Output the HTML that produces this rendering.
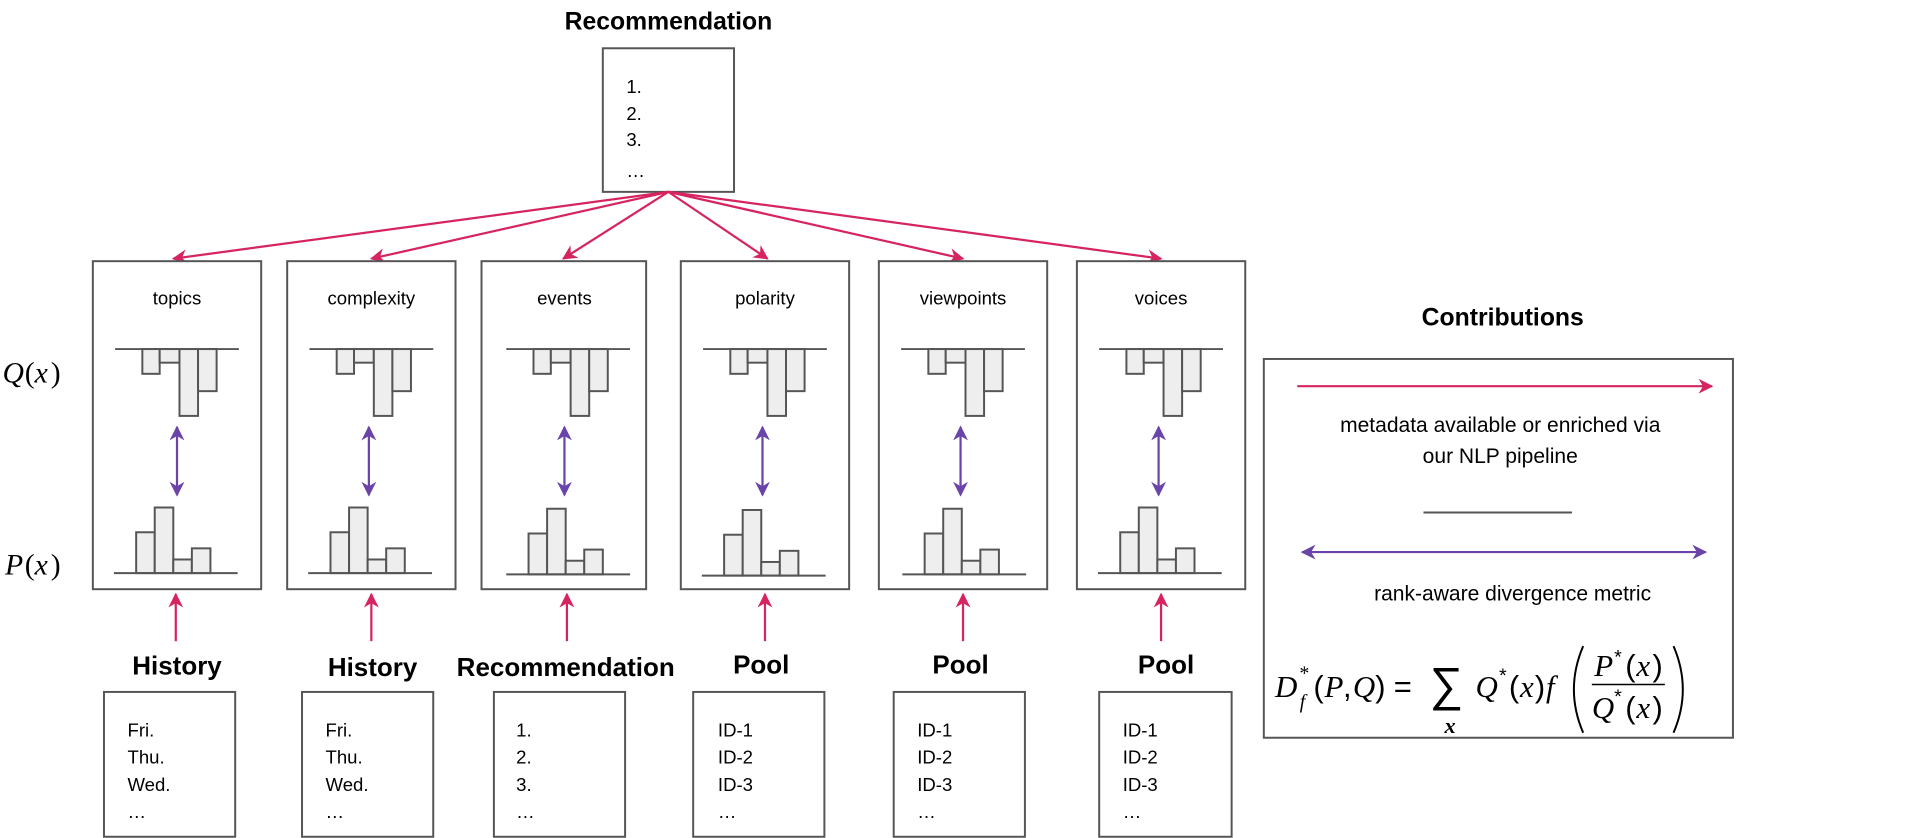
<!DOCTYPE html>
<html><head><meta charset="utf-8"><style>
html,body{margin:0;padding:0;background:#fff;width:1931px;height:838px;overflow:hidden}
svg{display:block}
text{font-family:"Liberation Sans",sans-serif;fill:#000}
.s{font-family:"Liberation Serif",serif;font-style:italic}
.r{font-family:"Liberation Serif",serif}
</style></head><body>
<svg width="1931" height="838" viewBox="0 0 1560 677" preserveAspectRatio="none" xmlns="http://www.w3.org/2000/svg">
<defs>
<marker id="pkb" viewBox="0 0 10 10" refX="9" refY="5" markerWidth="12" markerHeight="12" orient="auto-start-reverse" markerUnits="userSpaceOnUse"><path d="M0,0 L10,5 L0,10 L3,5 z" fill="#d6245f"/></marker>
<marker id="pub" viewBox="0 0 10 10" refX="9" refY="5" markerWidth="12" markerHeight="12" orient="auto-start-reverse" markerUnits="userSpaceOnUse"><path d="M0,0 L10,5 L0,10 L3,5 z" fill="#6a44a8"/></marker>
</defs>

<text x="540" y="24" font-size="20" font-weight="bold" text-anchor="middle">Recommendation</text>
<rect x="487" y="39" width="106" height="116" fill="#fff" stroke="#555" stroke-width="1.6"/>
<g font-size="15"><text x="506" y="75">1.</text><text x="506" y="97">2.</text><text x="506" y="118">3.</text><text x="506" y="143">…</text></g>

<g stroke="#d6245f" stroke-width="1.8" fill="none">
<line x1="540" y1="155" x2="140" y2="209" marker-end="url(#pkb)"/>
<line x1="540" y1="155" x2="300" y2="209" marker-end="url(#pkb)"/>
<line x1="540" y1="155" x2="455" y2="209" marker-end="url(#pkb)"/>
<line x1="540" y1="155" x2="620" y2="209" marker-end="url(#pkb)"/>
<line x1="540" y1="155" x2="778" y2="209" marker-end="url(#pkb)"/>
<line x1="540" y1="155" x2="938" y2="209" marker-end="url(#pkb)"/>
</g>

<text class="s" x="2" y="309" font-size="24">Q</text><text class="r" x="20" y="309" font-size="24">(</text><text class="s" x="28" y="309" font-size="24">x</text><text class="r" x="41" y="309" font-size="24">)</text>
<text class="s" x="4" y="464" font-size="24">P</text><text class="r" x="20" y="464" font-size="24">(</text><text class="s" x="28" y="464" font-size="24">x</text><text class="r" x="41" y="464" font-size="24">)</text>

<g transform="translate(75,0)">
<rect x="0" y="211" width="136" height="265" fill="#fff" stroke="#555" stroke-width="1.6"/>
<text x="68" y="246" text-anchor="middle" font-size="15">topics</text>
<g fill="#eee" stroke="#555" stroke-width="1.6">
<rect x="40" y="282" width="14" height="20"/><rect x="54" y="282" width="16" height="11"/><rect x="70" y="282" width="15" height="54"/><rect x="85" y="282" width="15" height="34"/>
<rect x="35" y="430" width="15" height="33"/><rect x="50" y="410" width="15" height="53"/><rect x="65" y="452" width="15" height="11"/><rect x="80" y="443" width="15" height="20"/>
</g>
<line x1="18" y1="282" x2="118" y2="282" stroke="#555" stroke-width="1.6"/>
<line x1="17" y1="463" x2="117" y2="463" stroke="#555" stroke-width="1.6"/>
<line x1="68" y1="345" x2="68" y2="400" stroke="#6a44a8" stroke-width="1.8" marker-start="url(#pub)" marker-end="url(#pub)"/>
</g>

<g transform="translate(232,0)">
<rect x="0" y="211" width="136" height="265" fill="#fff" stroke="#555" stroke-width="1.6"/>
<text x="68" y="246" text-anchor="middle" font-size="15">complexity</text>
<g fill="#eee" stroke="#555" stroke-width="1.6">
<rect x="40" y="282" width="14" height="20"/><rect x="54" y="282" width="16" height="11"/><rect x="70" y="282" width="15" height="54"/><rect x="85" y="282" width="15" height="34"/>
<rect x="35" y="430" width="15" height="33"/><rect x="50" y="410" width="15" height="53"/><rect x="65" y="452" width="15" height="11"/><rect x="80" y="443" width="15" height="20"/>
</g>
<line x1="18" y1="282" x2="118" y2="282" stroke="#555" stroke-width="1.6"/>
<line x1="17" y1="463" x2="117" y2="463" stroke="#555" stroke-width="1.6"/>
<line x1="66" y1="345" x2="66" y2="400" stroke="#6a44a8" stroke-width="1.8" marker-start="url(#pub)" marker-end="url(#pub)"/>
</g>

<g transform="translate(389,0)">
<rect x="0" y="211" width="133" height="265" fill="#fff" stroke="#555" stroke-width="1.6"/>
<text x="67" y="246" text-anchor="middle" font-size="15">events</text>
<g fill="#eee" stroke="#555" stroke-width="1.6">
<rect x="42" y="282" width="14" height="20"/><rect x="56" y="282" width="16" height="11"/><rect x="72" y="282" width="15" height="54"/><rect x="87" y="282" width="15" height="34"/>
<rect x="38" y="431" width="15" height="33"/><rect x="53" y="411" width="15" height="53"/><rect x="68" y="453" width="15" height="11"/><rect x="83" y="444" width="15" height="20"/>
</g>
<line x1="20" y1="282" x2="120" y2="282" stroke="#555" stroke-width="1.6"/>
<line x1="20" y1="464" x2="120" y2="464" stroke="#555" stroke-width="1.6"/>
<line x1="67" y1="345" x2="67" y2="400" stroke="#6a44a8" stroke-width="1.8" marker-start="url(#pub)" marker-end="url(#pub)"/>
</g>

<g transform="translate(550,0)">
<rect x="0" y="211" width="136" height="265" fill="#fff" stroke="#555" stroke-width="1.6"/>
<text x="68" y="246" text-anchor="middle" font-size="15">polarity</text>
<g fill="#eee" stroke="#555" stroke-width="1.6">
<rect x="40" y="282" width="14" height="20"/><rect x="54" y="282" width="16" height="11"/><rect x="70" y="282" width="15" height="54"/><rect x="85" y="282" width="15" height="34"/>
<rect x="35" y="432" width="15" height="33"/><rect x="50" y="412" width="15" height="53"/><rect x="65" y="454" width="15" height="11"/><rect x="80" y="445" width="15" height="20"/>
</g>
<line x1="18" y1="282" x2="118" y2="282" stroke="#555" stroke-width="1.6"/>
<line x1="17" y1="465" x2="117" y2="465" stroke="#555" stroke-width="1.6"/>
<line x1="66" y1="345" x2="66" y2="400" stroke="#6a44a8" stroke-width="1.8" marker-start="url(#pub)" marker-end="url(#pub)"/>
</g>

<g transform="translate(710,0)">
<rect x="0" y="211" width="136" height="265" fill="#fff" stroke="#555" stroke-width="1.6"/>
<text x="68" y="246" text-anchor="middle" font-size="15">viewpoints</text>
<g fill="#eee" stroke="#555" stroke-width="1.6">
<rect x="40" y="282" width="14" height="20"/><rect x="54" y="282" width="16" height="11"/><rect x="70" y="282" width="15" height="54"/><rect x="85" y="282" width="15" height="34"/>
<rect x="37" y="431" width="15" height="33"/><rect x="52" y="411" width="15" height="53"/><rect x="67" y="453" width="15" height="11"/><rect x="82" y="444" width="15" height="20"/>
</g>
<line x1="18" y1="282" x2="118" y2="282" stroke="#555" stroke-width="1.6"/>
<line x1="19" y1="464" x2="119" y2="464" stroke="#555" stroke-width="1.6"/>
<line x1="66" y1="345" x2="66" y2="400" stroke="#6a44a8" stroke-width="1.8" marker-start="url(#pub)" marker-end="url(#pub)"/>
</g>

<g transform="translate(870,0)">
<rect x="0" y="211" width="136" height="265" fill="#fff" stroke="#555" stroke-width="1.6"/>
<text x="68" y="246" text-anchor="middle" font-size="15">voices</text>
<g fill="#eee" stroke="#555" stroke-width="1.6">
<rect x="40" y="282" width="14" height="20"/><rect x="54" y="282" width="16" height="11"/><rect x="70" y="282" width="15" height="54"/><rect x="85" y="282" width="15" height="34"/>
<rect x="35" y="430" width="15" height="33"/><rect x="50" y="410" width="15" height="53"/><rect x="65" y="452" width="15" height="11"/><rect x="80" y="443" width="15" height="20"/>
</g>
<line x1="18" y1="282" x2="118" y2="282" stroke="#555" stroke-width="1.6"/>
<line x1="17" y1="463" x2="117" y2="463" stroke="#555" stroke-width="1.6"/>
<line x1="66" y1="345" x2="66" y2="400" stroke="#6a44a8" stroke-width="1.8" marker-start="url(#pub)" marker-end="url(#pub)"/>
</g>

<g stroke="#d6245f" stroke-width="1.8">
<line x1="142" y1="518" x2="142" y2="480" marker-end="url(#pkb)"/>
<line x1="300" y1="518" x2="300" y2="480" marker-end="url(#pkb)"/>
<line x1="458" y1="518" x2="458" y2="480" marker-end="url(#pkb)"/>
<line x1="618" y1="518" x2="618" y2="480" marker-end="url(#pkb)"/>
<line x1="778" y1="518" x2="778" y2="480" marker-end="url(#pkb)"/>
<line x1="938" y1="518" x2="938" y2="480" marker-end="url(#pkb)"/>
</g>

<g font-size="21" font-weight="bold" text-anchor="middle">
<text x="143" y="545">History</text>
<text x="301" y="546">History</text>
<text x="457" y="546">Recommendation</text>
<text x="615" y="544">Pool</text>
<text x="776" y="544">Pool</text>
<text x="942" y="544">Pool</text>
</g>

<g fill="#fff" stroke="#555" stroke-width="1.6">
<rect x="84" y="559" width="106" height="117"/>
<rect x="244" y="559" width="106" height="117"/>
<rect x="399" y="559" width="106" height="117"/>
<rect x="560" y="559" width="106" height="117"/>
<rect x="722" y="559" width="106" height="117"/>
<rect x="888" y="559" width="107" height="117"/>
</g>
<g font-size="15">
<text x="103" y="595">Fri.</text><text x="103" y="617">Thu.</text><text x="103" y="639">Wed.</text><text x="103" y="661">…</text>
<text x="263" y="595">Fri.</text><text x="263" y="617">Thu.</text><text x="263" y="639">Wed.</text><text x="263" y="661">…</text>
<text x="417" y="595">1.</text><text x="417" y="617">2.</text><text x="417" y="639">3.</text><text x="417" y="661">…</text>
<text x="580" y="595">ID-1</text><text x="580" y="617">ID-2</text><text x="580" y="639">ID-3</text><text x="580" y="661">…</text>
<text x="741" y="595">ID-1</text><text x="741" y="617">ID-2</text><text x="741" y="639">ID-3</text><text x="741" y="661">…</text>
<text x="907" y="595">ID-1</text><text x="907" y="617">ID-2</text><text x="907" y="639">ID-3</text><text x="907" y="661">…</text>
</g>

<text x="1214" y="263" font-size="20" font-weight="bold" text-anchor="middle">Contributions</text>
<rect x="1021" y="290" width="379" height="306" fill="#fff" stroke="#555" stroke-width="1.6"/>
<line x1="1048" y1="312" x2="1383" y2="312" stroke="#d6245f" stroke-width="1.8" marker-end="url(#pkb)"/>
<text x="1212" y="349" font-size="17" text-anchor="middle">metadata available or enriched via</text>
<text x="1212" y="374" font-size="17" text-anchor="middle">our NLP pipeline</text>
<line x1="1150" y1="414" x2="1270" y2="414" stroke="#555" stroke-width="1.6"/>
<line x1="1052" y1="446" x2="1378" y2="446" stroke="#6a44a8" stroke-width="1.8" marker-start="url(#pub)" marker-end="url(#pub)"/>
<text x="1222" y="485" font-size="17" text-anchor="middle">rank-aware divergence metric</text>

<g class="r" font-size="25">
<text class="s" x="1030" y="563">D</text>
<text class="s" x="1049" y="549" font-size="16">*</text>
<text class="s" x="1050" y="572" font-size="16">f</text>
<text x="1061" y="563">(</text><text class="s" x="1070" y="563">P</text><text x="1085" y="563">,</text><text class="s" x="1093" y="563">Q</text><text x="1111" y="563">)</text>
<text x="1126" y="563">=</text>
<text x="1155" y="566" font-size="38">∑</text>
<text class="s" x="1167" y="592" font-size="18" font-weight="bold">x</text>
<text class="s" x="1192" y="563">Q</text><text x="1211" y="551" font-size="16">*</text>
<text x="1219" y="563">(</text><text class="s" x="1228" y="563">x</text><text x="1240" y="563">)</text>
<text class="s" x="1249" y="563">f</text>
<path d="M1279,522 Q1264,557 1279,592" fill="none" stroke="#000" stroke-width="1.6"/>
<text class="s" x="1288" y="546">P</text><text x="1304" y="536" font-size="16">*</text><text x="1313" y="546">(</text><text class="s" x="1322" y="546">x</text><text x="1335" y="546">)</text>
<line x1="1286" y1="553" x2="1345" y2="553" stroke="#000" stroke-width="1.2"/>
<text class="s" x="1286" y="580">Q</text><text x="1304" y="568" font-size="16">*</text><text x="1313" y="580">(</text><text class="s" x="1322" y="580">x</text><text x="1335" y="580">)</text>
<path d="M1352,522 Q1367,557 1352,592" fill="none" stroke="#000" stroke-width="1.6"/>
</g>
</svg>
</body></html>
